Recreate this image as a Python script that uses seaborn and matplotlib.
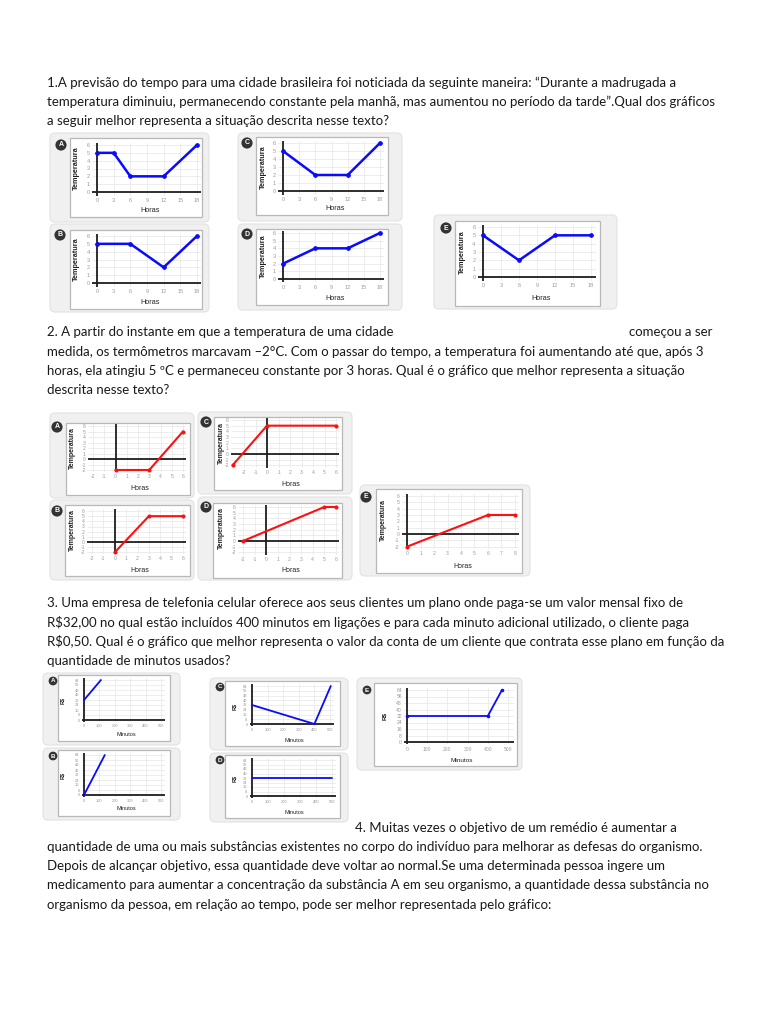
import matplotlib
matplotlib.use('Agg')
import matplotlib.pyplot as plt
from matplotlib.patches import FancyBboxPatch, Rectangle
import seaborn as sns

W, H = 768, 1024

# ---------------- data ----------------
letters = ['A', 'B', 'C', 'D', 'E']

# questao 1: temperatura x horas
q1_xticks = [0, 3, 6, 9, 12, 15, 18]
q1_yticks = [0, 1, 2, 3, 4, 5, 6]
q1_a_x = [0, 3, 6, 12, 18]
q1_a_y = [5, 5, 2, 2, 6]
q1_b_x = [0, 6, 12, 18]
q1_b_y = [5, 5, 2, 6]
q1_c_x = [0, 6, 12, 18]
q1_c_y = [5, 2, 2, 6]
q1_d_x = [0, 6, 12, 18]
q1_d_y = [2, 4, 4, 6]
q1_e_x = [0, 6, 12, 18]
q1_e_y = [5, 2, 5, 5]

# questao 2: temperatura x horas (com negativos)
q2_xticks = [-2, -1, 0, 1, 2, 3, 4, 5, 6]
q2_xticks_e = [0, 1, 2, 3, 4, 5, 6, 7, 8]
q2_yticks = [-2, -1, 0, 1, 2, 3, 4, 5, 6]
q2_a_x = [0, 3, 6]
q2_a_y = [-2, -2, 5]
q2_b_x = [0, 3, 6]
q2_b_y = [-2, 5, 5]
q2_c_x = [-3, 0, 6]
q2_c_y = [-2, 5, 5]
q2_d_x = [-2, 5, 6]
q2_d_y = [0, 6, 6]
q2_e_x = [0, 6, 8]
q2_e_y = [-2, 3, 3]

# questao 3: R$ x minutos
q3_xticks = [0, 100, 200, 300, 400, 500]
q3_yticks = [0, 8, 16, 24, 32, 40, 48, 56, 64]
q3_a_x = [0, 110]
q3_a_y = [32, 64]
q3_b_x = [0, 135]
q3_b_y = [0, 64]
q3_c_x = [0, 400, 505]
q3_c_y = [32, 0, 64]
q3_d_x = [0, 500]
q3_d_y = [32, 32]
q3_e_x = [0, 400, 470]
q3_e_y = [32, 32, 64]

# ---------------- texts ----------------
q1_text = ["1.A previsão do tempo para uma cidade brasileira foi noticiada da seguinte maneira: “Durante a madrugada a",
           "temperatura diminuiu, permanecendo constante pela manhã, mas aumentou no período da tarde”.Qual dos gráficos",
           "a seguir melhor representa a situação descrita nesse texto?"]
q2_text = ["medida, os termômetros marcavam –2°C. Com o passar do tempo, a temperatura foi aumentando até que, após 3",
           "horas, ela atingiu 5 ºC e permaneceu constante por 3 horas. Qual é o gráfico que melhor representa a situação",
           "descrita nesse texto?"]
q3_text = ["3. Uma empresa de telefonia celular oferece aos seus clientes um plano onde paga-se um valor mensal fixo de",
           "R$32,00 no qual estão incluídos 400 minutos em ligações e para cada minuto adicional utilizado, o cliente paga",
           "R$0,50. Qual é o gráfico que melhor representa o valor da conta de um cliente que contrata esse plano em função da",
           "quantidade de minutos usados?"]
q4_text = ["quantidade de uma ou mais substâncias existentes no corpo do indivíduo para melhorar as defesas do organismo.",
           "Depois de alcançar objetivo, essa quantidade deve voltar ao normal.Se uma determinada pessoa ingere um",
           "medicamento para aumentar a concentração da substância A em seu organismo, a quantidade dessa substância no",
           "organismo da pessoa, em relação ao tempo, pode ser melhor representada pelo gráfico:"]

sns.set_style('white')
plt.rcParams['font.family'] = ['Liberation Sans', 'DejaVu Sans']
plt.rcParams['axes.unicode_minus'] = False

fig = plt.figure(figsize=(W / 100, H / 100), dpi=100)
fig.patch.set_facecolor('white')


def fx(x):
    return x / W


def fy(y):
    return 1 - y / H


def card(c, b):
    l, t, r, bt = c
    fig.add_artist(FancyBboxPatch((l / 100, (H - bt) / 100), (r - l) / 100, (bt - t) / 100,
                                  boxstyle='round,pad=0,rounding_size=0.05',
                                  transform=fig.dpi_scale_trans, fc='#f0f0f0', ec='#e2e2e2',
                                  lw=0.8, zorder=-3))
    l, t, r, bt = b
    fig.add_artist(Rectangle((l / 100, (H - bt) / 100), (r - l) / 100, (bt - t) / 100,
                             transform=fig.dpi_scale_trans, fc='white', ec='#b8b8b8',
                             lw=0.9, zorder=-2))


def badge(pos, letter, fs):
    fig.text(fx(pos[0]), fy(pos[1]), letter, ha='center', va='center', color='white',
             fontsize=fs, weight='bold',
             bbox=dict(boxstyle='circle,pad=0.3', fc='#333333', ec='none'))


def make_axes(xmap, ymap, xlim, ylim):
    x0v, x0p, x1v, x1p = xmap
    sx = (x1p - x0p) / (x1v - x0v)
    left = x0p + (xlim[0] - x0v) * sx
    right = x0p + (xlim[1] - x0v) * sx
    y0v, y0p, y1v, y1p = ymap
    sy = (y1p - y0p) / (y1v - y0v)
    bottom = y0p + (ylim[0] - y0v) * sy
    top = y0p + (ylim[1] - y0v) * sy
    ax = fig.add_axes([left / W, 1 - bottom / H, (right - left) / W, (bottom - top) / H])
    return ax


def chart(spec, xs, ys, color, xticks, yticks, xlim, ylim, tick_fs, lab_fs, xlab, ylab, lw, ms):
    card(spec['card'], spec['box'])
    badge(spec['badge'], spec['letter'], spec.get('bfs', 5))
    ax = make_axes(spec['xmap'], spec['ymap'], xlim, ylim)
    ax.set_facecolor('none')
    ax.set_axisbelow(True)
    ax.grid(True, color='#e6e6e6', lw=0.5)
    for s in ax.spines.values():
        s.set_visible(False)
    ax.axhline(0, color='#1e1e1e', lw=1.3, zorder=2)
    ax.axvline(0, color='#1e1e1e', lw=1.3, zorder=2)
    sns.lineplot(x=xs, y=ys, ax=ax, color=color, lw=lw, marker='o' if ms else None,
                 ms=ms, mec=color, sort=False, legend=False, zorder=3)
    ax.set_xlim(xlim)
    ax.set_ylim(ylim)
    ax.set_xticks(xticks)
    ax.set_yticks(yticks)
    ax.tick_params(length=0, labelsize=tick_fs, labelcolor='#9a9a9a', pad=1.5)
    ax.set_xlabel('')
    ax.set_ylabel('')
    fig.text(fx(spec['xl'][0]), fy(spec['xl'][1]), xlab, ha='center', va='center',
             fontsize=lab_fs, color='#222222')
    fig.text(fx(spec['yl'][0]), fy(spec['yl'][1]), ylab, ha='center', va='center',
             fontsize=lab_fs, color='#222222', rotation=90, weight='bold')
    return ax


# ---------------- question 1 charts ----------------
q1_specs = [
    dict(card=(50, 133, 209, 222), box=(70, 138, 202, 217), badge=(61, 145),
         xmap=(0, 97, 18, 197), ymap=(0, 192, 6, 145), xl=(150, 211), yl=(76, 168)),
    dict(card=(50, 224, 209, 312), box=(70, 230, 202, 309), badge=(60, 235),
         xmap=(0, 97, 18, 197), ymap=(0, 283, 6, 236), xl=(150, 302), yl=(76, 259)),
    dict(card=(238, 133, 402, 221), box=(256, 137, 388, 215), badge=(247, 143),
         xmap=(0, 283, 18, 380), ymap=(0, 191, 6, 143), xl=(335, 209), yl=(263, 167)),
    dict(card=(238, 224, 402, 310), box=(256, 229, 388, 305), badge=(247, 234),
         xmap=(0, 283, 18, 380), ymap=(0, 279, 6, 233), xl=(335, 298), yl=(263, 256)),
    dict(card=(434, 215, 617, 309), box=(455, 221, 600, 306), badge=(446, 228),
         xmap=(0, 483, 18, 591), ymap=(0, 277, 6, 227), xl=(541, 298), yl=(462, 252)),
]
q1_data = [(q1_a_x, q1_a_y), (q1_b_x, q1_b_y), (q1_c_x, q1_c_y), (q1_d_x, q1_d_y), (q1_e_x, q1_e_y)]
for spec, let, (xs, ys) in zip(q1_specs, letters, q1_data):
    spec['letter'] = let
    chart(spec, xs, ys, '#0a0aff', q1_xticks, q1_yticks, (-0.9, 18.8), (-0.45, 6.3),
          4, 5.2, 'Horas', 'Temperatura', 1.8, 2.6)

# ---------------- question 2 charts ----------------
q2_specs = [
    dict(card=(50, 413, 194, 498), box=(66, 423, 190, 495), badge=(57, 427),
         xmap=(-2, 93, 6, 183), ymap=(0, 459, 6, 426), xl=(140, 488), yl=(72, 448)),
    dict(card=(50, 500, 194, 580), box=(65, 505, 190, 576), badge=(57, 511),
         xmap=(-2, 92, 6, 183), ymap=(0, 542, 6, 511), xl=(140, 570), yl=(72, 530)),
    dict(card=(198, 412, 352, 494), box=(214, 417, 342, 490), badge=(206, 422),
         xmap=(-2, 244, 6, 336), ymap=(0, 454, 6, 420), xl=(291, 484), yl=(221, 443)),
    dict(card=(198, 497, 352, 580), box=(213, 503, 342, 578), badge=(206, 507),
         xmap=(-2, 243, 6, 336), ymap=(0, 541, 6, 507), xl=(291, 570), yl=(221, 528)),
    dict(card=(360, 485, 530, 576), box=(376, 489, 522, 573), badge=(366, 497),
         xmap=(0, 407, 8, 515), ymap=(0, 534, 6, 496), xl=(463, 566), yl=(383, 520)),
]
q2_data = [(q2_a_x, q2_a_y), (q2_b_x, q2_b_y), (q2_c_x, q2_c_y), (q2_d_x, q2_d_y), (q2_e_x, q2_e_y)]
for spec, let, (xs, ys) in zip(q2_specs, letters, q2_data):
    spec['letter'] = let
    if let == 'E':
        xt, xlim = q2_xticks_e, (-0.4, 8.3)
    elif let == 'C':
        xt, xlim = q2_xticks, (-3.15, 6.3)
    else:
        xt, xlim = q2_xticks, (-2.45, 6.3)
    chart(spec, xs, ys, '#ff1010', xt, q2_yticks, xlim, (-2.4, 6.3),
          3.6, 5.0, 'Horas', 'Temperatura', 1.5, 2.2)

# ---------------- question 3 charts ----------------
q3_specs = [
    dict(card=(43, 673, 180, 745), box=(58, 675, 170, 741), badge=(53, 681),
         xmap=(0, 84, 500, 161), ymap=(0, 720, 64, 680), xl=(126, 734), yl=(63, 700)),
    dict(card=(43, 748, 180, 820), box=(58, 750, 170, 816), badge=(53, 756),
         xmap=(0, 84, 500, 161), ymap=(0, 795, 64, 755), xl=(126, 809), yl=(63, 775)),
    dict(card=(210, 678, 348, 750), box=(225, 681, 340, 746), badge=(220, 687),
         xmap=(0, 252, 500, 330), ymap=(0, 724, 64, 686), xl=(294, 741), yl=(235, 706)),
    dict(card=(210, 753, 348, 822), box=(225, 755, 340, 818), badge=(220, 760),
         xmap=(0, 252, 500, 332), ymap=(0, 796, 64, 760), xl=(294, 813), yl=(235, 778)),
    dict(card=(357, 678, 522, 770), box=(374, 683, 517, 766), badge=(367, 690),
         xmap=(0, 407, 500, 508), ymap=(0, 742, 64, 690), xl=(462, 760), yl=(385, 716)),
]
q3_data = [(q3_a_x, q3_a_y), (q3_b_x, q3_b_y), (q3_c_x, q3_c_y), (q3_d_x, q3_d_y), (q3_e_x, q3_e_y)]
for spec, let, (xs, ys) in zip(q3_specs, letters, q3_data):
    spec['letter'] = let
    spec['bfs'] = 4.5
    big = let == 'E'
    chart(spec, xs, ys, '#0a0aff', q3_xticks, q3_yticks, (-15, 528), (-3, 67),
          3.6 if big else 2.9, 4.6 if big else 4.0, 'Minutos', 'R$',
          1.3, 1.8 if big else 0)

# ---------------- body text ----------------
body_family = ['Lato', 'DejaVu Sans']
probe = fig.text(fx(47), fy(83), q1_text[0], fontsize=9, family=body_family, va='center')
bb = probe.get_window_extent(fig.canvas.get_renderer())
body_fs = 9 * 630 / bb.width
probe.remove()


def para(lines, x0, y0, step=19.2):
    for i, line in enumerate(lines):
        fig.text(fx(x0), fy(y0 + i * step), line, fontsize=body_fs, family=body_family,
                 va='center', ha='left', color='#1a1a1a')


para(q1_text, 47, 83)
para(["2. A partir do instante em que a temperatura de uma cidade"], 47, 332)
para(["começou a ser"], 629, 332)
para(q2_text, 47, 352)
para(q3_text, 47, 603)
para(["4. Muitas vezes o objetivo de um remédio é aumentar a"], 355, 828)
para(q4_text, 47, 847)

fig.savefig('out.png', dpi=100)
